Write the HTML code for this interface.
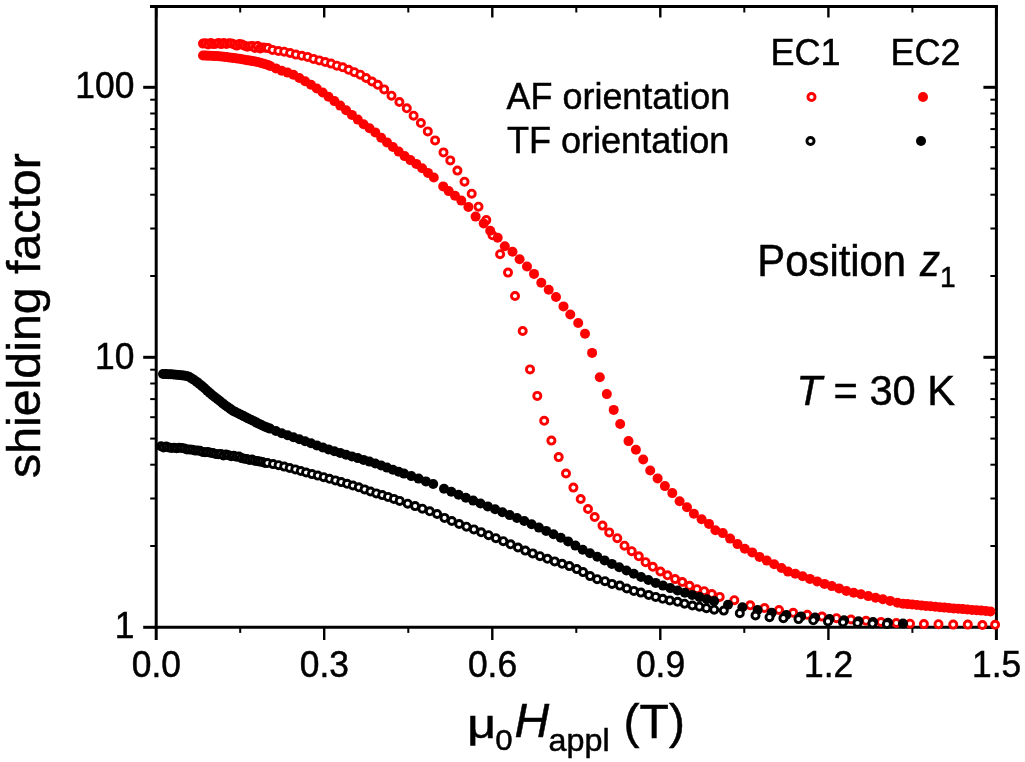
<!DOCTYPE html>
<html><head><meta charset="utf-8"><title>shielding factor</title><style>html,body{margin:0;padding:0;background:#fff;width:1025px;height:762px;overflow:hidden}svg{display:block}</style></head><body><svg width="1025" height="762" viewBox="0 0 1025 762"><g stroke="#000" stroke-width="3" fill="none" stroke-linecap="butt"><line x1="150" y1="6.5" x2="997.9" y2="6.5"/><line x1="156.2" y1="5.0" x2="156.2" y2="628.8"/><line x1="996.4" y1="5.0" x2="996.4" y2="628.8"/><line x1="154.7" y1="627.3" x2="997.9" y2="627.3"/></g><g stroke="#000" fill="none"><line x1="156.2" y1="627.3" x2="156.2" y2="640.0" stroke-width="3"/><line x1="156.2" y1="6.5" x2="156.2" y2="17.5" stroke-width="2.4"/><line x1="240.2" y1="627.3" x2="240.2" y2="632.9" stroke-width="2"/><line x1="240.2" y1="6.5" x2="240.2" y2="12.5" stroke-width="2"/><line x1="324.2" y1="627.3" x2="324.2" y2="640.0" stroke-width="2.4"/><line x1="324.2" y1="6.5" x2="324.2" y2="17.5" stroke-width="2.4"/><line x1="408.3" y1="627.3" x2="408.3" y2="632.9" stroke-width="2"/><line x1="408.3" y1="6.5" x2="408.3" y2="12.5" stroke-width="2"/><line x1="492.3" y1="627.3" x2="492.3" y2="640.0" stroke-width="2.4"/><line x1="492.3" y1="6.5" x2="492.3" y2="17.5" stroke-width="2.4"/><line x1="576.3" y1="627.3" x2="576.3" y2="632.9" stroke-width="2"/><line x1="576.3" y1="6.5" x2="576.3" y2="12.5" stroke-width="2"/><line x1="660.3" y1="627.3" x2="660.3" y2="640.0" stroke-width="2.4"/><line x1="660.3" y1="6.5" x2="660.3" y2="17.5" stroke-width="2.4"/><line x1="744.3" y1="627.3" x2="744.3" y2="632.9" stroke-width="2"/><line x1="744.3" y1="6.5" x2="744.3" y2="12.5" stroke-width="2"/><line x1="828.4" y1="627.3" x2="828.4" y2="640.0" stroke-width="2.4"/><line x1="828.4" y1="6.5" x2="828.4" y2="17.5" stroke-width="2.4"/><line x1="912.4" y1="627.3" x2="912.4" y2="632.9" stroke-width="2"/><line x1="912.4" y1="6.5" x2="912.4" y2="12.5" stroke-width="2"/><line x1="996.4" y1="627.3" x2="996.4" y2="640.0" stroke-width="3"/><line x1="996.4" y1="6.5" x2="996.4" y2="17.5" stroke-width="2.4"/><line x1="156.2" y1="627.3" x2="143.2" y2="627.3" stroke-width="3"/><line x1="996.4" y1="627.3" x2="983.4" y2="627.3" stroke-width="3"/><line x1="156.2" y1="546.0" x2="150.2" y2="546.0" stroke-width="2"/><line x1="996.4" y1="546.0" x2="990.4" y2="546.0" stroke-width="2"/><line x1="156.2" y1="498.5" x2="150.2" y2="498.5" stroke-width="2"/><line x1="996.4" y1="498.5" x2="990.4" y2="498.5" stroke-width="2"/><line x1="156.2" y1="464.7" x2="150.2" y2="464.7" stroke-width="2"/><line x1="996.4" y1="464.7" x2="990.4" y2="464.7" stroke-width="2"/><line x1="156.2" y1="438.6" x2="150.2" y2="438.6" stroke-width="2"/><line x1="996.4" y1="438.6" x2="990.4" y2="438.6" stroke-width="2"/><line x1="156.2" y1="417.2" x2="150.2" y2="417.2" stroke-width="2"/><line x1="996.4" y1="417.2" x2="990.4" y2="417.2" stroke-width="2"/><line x1="156.2" y1="399.1" x2="150.2" y2="399.1" stroke-width="2"/><line x1="996.4" y1="399.1" x2="990.4" y2="399.1" stroke-width="2"/><line x1="156.2" y1="383.5" x2="150.2" y2="383.5" stroke-width="2"/><line x1="996.4" y1="383.5" x2="990.4" y2="383.5" stroke-width="2"/><line x1="156.2" y1="369.7" x2="150.2" y2="369.7" stroke-width="2"/><line x1="996.4" y1="369.7" x2="990.4" y2="369.7" stroke-width="2"/><line x1="156.2" y1="357.3" x2="143.2" y2="357.3" stroke-width="3"/><line x1="996.4" y1="357.3" x2="983.4" y2="357.3" stroke-width="3"/><line x1="156.2" y1="276.0" x2="150.2" y2="276.0" stroke-width="2"/><line x1="996.4" y1="276.0" x2="990.4" y2="276.0" stroke-width="2"/><line x1="156.2" y1="228.5" x2="150.2" y2="228.5" stroke-width="2"/><line x1="996.4" y1="228.5" x2="990.4" y2="228.5" stroke-width="2"/><line x1="156.2" y1="194.7" x2="150.2" y2="194.7" stroke-width="2"/><line x1="996.4" y1="194.7" x2="990.4" y2="194.7" stroke-width="2"/><line x1="156.2" y1="168.6" x2="150.2" y2="168.6" stroke-width="2"/><line x1="996.4" y1="168.6" x2="990.4" y2="168.6" stroke-width="2"/><line x1="156.2" y1="147.2" x2="150.2" y2="147.2" stroke-width="2"/><line x1="996.4" y1="147.2" x2="990.4" y2="147.2" stroke-width="2"/><line x1="156.2" y1="129.1" x2="150.2" y2="129.1" stroke-width="2"/><line x1="996.4" y1="129.1" x2="990.4" y2="129.1" stroke-width="2"/><line x1="156.2" y1="113.5" x2="150.2" y2="113.5" stroke-width="2"/><line x1="996.4" y1="113.5" x2="990.4" y2="113.5" stroke-width="2"/><line x1="156.2" y1="99.7" x2="150.2" y2="99.7" stroke-width="2"/><line x1="996.4" y1="99.7" x2="990.4" y2="99.7" stroke-width="2"/><line x1="156.2" y1="87.3" x2="143.2" y2="87.3" stroke-width="3"/><line x1="996.4" y1="87.3" x2="983.4" y2="87.3" stroke-width="3"/></g><g fill="#fff" stroke="#f00" stroke-width="2.9"><circle cx="203.0" cy="43.6" r="3.55"/><circle cx="205.6" cy="43.2" r="3.55"/><circle cx="208.2" cy="44.4" r="3.55"/><circle cx="210.8" cy="43.0" r="3.55"/><circle cx="213.4" cy="44.1" r="3.55"/><circle cx="216.0" cy="43.7" r="3.55"/><circle cx="218.6" cy="43.0" r="3.55"/><circle cx="221.2" cy="44.1" r="3.55"/><circle cx="223.8" cy="43.0" r="3.55"/><circle cx="226.4" cy="44.0" r="3.55"/><circle cx="229.0" cy="43.2" r="3.55"/><circle cx="231.6" cy="43.4" r="3.55"/><circle cx="234.2" cy="44.4" r="3.55"/><circle cx="236.8" cy="45.6" r="3.55"/><circle cx="239.4" cy="44.1" r="3.55"/><circle cx="242.0" cy="44.6" r="3.55"/><circle cx="244.6" cy="45.7" r="3.55"/><circle cx="247.2" cy="46.7" r="3.55"/><circle cx="249.8" cy="46.2" r="3.55"/><circle cx="252.4" cy="46.1" r="3.55"/><circle cx="255.0" cy="47.9" r="3.55"/><circle cx="257.6" cy="46.1" r="3.55"/><circle cx="260.2" cy="48.4" r="3.55"/><circle cx="262.8" cy="47.5" r="3.55"/><circle cx="265.4" cy="47.7" r="3.55"/><circle cx="268.0" cy="48.1" r="3.55"/><circle cx="272.5" cy="49.9" r="3.55"/><circle cx="278.4" cy="51.0" r="3.55"/><circle cx="284.2" cy="51.7" r="3.55"/><circle cx="290.1" cy="53.0" r="3.55"/><circle cx="295.9" cy="54.6" r="3.55"/><circle cx="301.8" cy="55.8" r="3.55"/><circle cx="307.6" cy="56.9" r="3.55"/><circle cx="313.5" cy="58.9" r="3.55"/><circle cx="319.3" cy="60.4" r="3.55"/><circle cx="325.2" cy="62.0" r="3.55"/><circle cx="331.0" cy="63.6" r="3.55"/><circle cx="336.9" cy="65.7" r="3.55"/><circle cx="342.7" cy="67.3" r="3.55"/><circle cx="348.6" cy="69.8" r="3.55"/><circle cx="354.4" cy="72.2" r="3.55"/><circle cx="360.3" cy="74.7" r="3.55"/><circle cx="366.1" cy="78.0" r="3.55"/><circle cx="372.0" cy="81.5" r="3.55"/><circle cx="377.8" cy="84.8" r="3.55"/><circle cx="384.2" cy="89.4" r="3.55"/><circle cx="391.5" cy="95.7" r="3.55"/><circle cx="399.4" cy="102.0" r="3.55"/><circle cx="406.8" cy="108.3" r="3.55"/><circle cx="413.6" cy="115.7" r="3.55"/><circle cx="420.9" cy="123.0" r="3.55"/><circle cx="427.8" cy="131.4" r="3.55"/><circle cx="435.1" cy="140.4" r="3.55"/><circle cx="443.5" cy="152.4" r="3.55"/><circle cx="450.3" cy="160.4" r="3.55"/><circle cx="457.4" cy="170.6" r="3.55"/><circle cx="464.5" cy="181.7" r="3.55"/><circle cx="471.7" cy="193.7" r="3.55"/><circle cx="478.5" cy="206.7" r="3.55"/><circle cx="486.3" cy="220.1" r="3.55"/><circle cx="492.5" cy="235.3" r="3.55"/><circle cx="500.1" cy="254.2" r="3.55"/><circle cx="508.0" cy="272.6" r="3.55"/><circle cx="515.0" cy="296.0" r="3.55"/><circle cx="522.7" cy="331.0" r="3.55"/><circle cx="530.0" cy="369.4" r="3.55"/><circle cx="537.3" cy="395.9" r="3.55"/><circle cx="544.2" cy="420.8" r="3.55"/><circle cx="551.4" cy="440.6" r="3.55"/><circle cx="558.7" cy="457.1" r="3.55"/><circle cx="566.0" cy="473.5" r="3.55"/><circle cx="573.4" cy="487.6" r="3.55"/><circle cx="580.7" cy="499.0" r="3.55"/><circle cx="588.0" cy="509.0" r="3.55"/><circle cx="594.7" cy="517.0" r="3.55"/><circle cx="602.5" cy="525.6" r="3.55"/><circle cx="609.2" cy="532.4" r="3.55"/><circle cx="617.3" cy="538.2" r="3.55"/><circle cx="624.5" cy="545.7" r="3.55"/><circle cx="631.7" cy="551.2" r="3.55"/><circle cx="638.8" cy="556.3" r="3.55"/><circle cx="645.6" cy="562.2" r="3.55"/><circle cx="652.8" cy="566.8" r="3.55"/><circle cx="660.4" cy="571.5" r="3.55"/><circle cx="667.5" cy="575.3" r="3.55"/><circle cx="675.1" cy="579.1" r="3.55"/><circle cx="682.3" cy="582.0" r="3.55"/><circle cx="689.5" cy="585.8" r="3.55"/><circle cx="697.0" cy="589.2" r="3.55"/><circle cx="704.2" cy="591.2" r="3.55"/><circle cx="711.8" cy="594.0" r="3.55"/><circle cx="719.7" cy="596.9" r="3.55"/><circle cx="734.3" cy="600.2" r="3.55"/><circle cx="750.2" cy="605.3" r="3.55"/><circle cx="764.5" cy="608.0" r="3.55"/><circle cx="779.0" cy="610.0" r="3.55"/><circle cx="793.2" cy="612.8" r="3.55"/><circle cx="807.3" cy="614.8" r="3.55"/><circle cx="822.0" cy="616.6" r="3.55"/><circle cx="836.5" cy="618.2" r="3.55"/><circle cx="851.0" cy="619.5" r="3.55"/><circle cx="866.0" cy="620.8" r="3.55"/><circle cx="881.0" cy="622.0" r="3.55"/><circle cx="896.3" cy="623.0" r="3.55"/><circle cx="910.0" cy="623.7" r="3.55"/><circle cx="923.9" cy="624.1" r="3.55"/><circle cx="938.5" cy="624.2" r="3.55"/><circle cx="953.2" cy="624.6" r="3.55"/><circle cx="967.8" cy="624.6" r="3.55"/><circle cx="982.4" cy="625.0" r="3.55"/><circle cx="995.1" cy="624.8" r="3.55"/></g><g fill="#f00" stroke="none"><circle cx="203.0" cy="55.5" r="5.0"/><circle cx="205.6" cy="55.6" r="5.0"/><circle cx="208.2" cy="55.7" r="5.0"/><circle cx="210.8" cy="55.8" r="5.0"/><circle cx="213.4" cy="55.9" r="5.0"/><circle cx="216.0" cy="56.1" r="5.0"/><circle cx="218.6" cy="56.2" r="5.0"/><circle cx="221.2" cy="56.4" r="5.0"/><circle cx="223.8" cy="56.8" r="5.0"/><circle cx="226.4" cy="57.1" r="5.0"/><circle cx="229.0" cy="57.4" r="5.0"/><circle cx="231.6" cy="57.8" r="5.0"/><circle cx="234.2" cy="58.1" r="5.0"/><circle cx="236.8" cy="58.4" r="5.0"/><circle cx="239.4" cy="58.8" r="5.0"/><circle cx="242.0" cy="59.3" r="5.0"/><circle cx="244.6" cy="59.7" r="5.0"/><circle cx="247.2" cy="60.2" r="5.0"/><circle cx="249.8" cy="60.6" r="5.0"/><circle cx="252.4" cy="61.1" r="5.0"/><circle cx="255.0" cy="61.5" r="5.0"/><circle cx="257.6" cy="62.0" r="5.0"/><circle cx="260.2" cy="62.7" r="5.0"/><circle cx="262.8" cy="63.4" r="5.0"/><circle cx="265.4" cy="64.2" r="5.0"/><circle cx="268.0" cy="65.0" r="5.0"/><circle cx="270.0" cy="65.9" r="5.0"/><circle cx="275.9" cy="68.4" r="5.0"/><circle cx="281.7" cy="70.7" r="5.0"/><circle cx="287.6" cy="72.6" r="5.0"/><circle cx="293.4" cy="74.8" r="5.0"/><circle cx="299.3" cy="78.0" r="5.0"/><circle cx="305.1" cy="81.3" r="5.0"/><circle cx="311.0" cy="84.8" r="5.0"/><circle cx="316.8" cy="88.5" r="5.0"/><circle cx="322.7" cy="92.5" r="5.0"/><circle cx="328.5" cy="96.7" r="5.0"/><circle cx="334.4" cy="101.1" r="5.0"/><circle cx="340.2" cy="105.6" r="5.0"/><circle cx="346.1" cy="110.2" r="5.0"/><circle cx="351.9" cy="114.9" r="5.0"/><circle cx="357.8" cy="119.6" r="5.0"/><circle cx="363.6" cy="124.2" r="5.0"/><circle cx="369.5" cy="128.2" r="5.0"/><circle cx="375.3" cy="132.4" r="5.0"/><circle cx="381.2" cy="137.7" r="5.0"/><circle cx="387.0" cy="142.4" r="5.0"/><circle cx="392.9" cy="147.0" r="5.0"/><circle cx="398.7" cy="151.6" r="5.0"/><circle cx="404.6" cy="156.1" r="5.0"/><circle cx="410.4" cy="160.1" r="5.0"/><circle cx="416.3" cy="163.9" r="5.0"/><circle cx="422.1" cy="168.3" r="5.0"/><circle cx="428.0" cy="172.9" r="5.0"/><circle cx="433.8" cy="177.5" r="5.0"/><circle cx="443.2" cy="186.4" r="5.0"/><circle cx="448.7" cy="191.1" r="5.0"/><circle cx="455.0" cy="195.8" r="5.0"/><circle cx="461.3" cy="200.6" r="5.0"/><circle cx="468.4" cy="206.9" r="5.0"/><circle cx="475.6" cy="216.6" r="5.0"/><circle cx="483.7" cy="223.4" r="5.0"/><circle cx="490.2" cy="230.8" r="5.0"/><circle cx="497.7" cy="237.7" r="5.0"/><circle cx="504.8" cy="246.2" r="5.0"/><circle cx="512.5" cy="251.8" r="5.0"/><circle cx="519.6" cy="259.3" r="5.0"/><circle cx="527.0" cy="266.5" r="5.0"/><circle cx="534.0" cy="273.9" r="5.0"/><circle cx="541.3" cy="282.7" r="5.0"/><circle cx="548.7" cy="289.7" r="5.0"/><circle cx="556.0" cy="297.0" r="5.0"/><circle cx="563.5" cy="306.4" r="5.0"/><circle cx="570.3" cy="314.5" r="5.0"/><circle cx="578.2" cy="323.0" r="5.0"/><circle cx="585.0" cy="333.7" r="5.0"/><circle cx="592.1" cy="352.9" r="5.0"/><circle cx="599.8" cy="377.2" r="5.0"/><circle cx="606.8" cy="394.1" r="5.0"/><circle cx="613.7" cy="409.9" r="5.0"/><circle cx="620.2" cy="424.0" r="5.0"/><circle cx="628.5" cy="441.1" r="5.0"/><circle cx="635.9" cy="449.8" r="5.0"/><circle cx="643.2" cy="459.5" r="5.0"/><circle cx="650.2" cy="470.5" r="5.0"/><circle cx="657.6" cy="478.4" r="5.0"/><circle cx="664.9" cy="486.1" r="5.0"/><circle cx="672.3" cy="493.1" r="5.0"/><circle cx="679.6" cy="501.3" r="5.0"/><circle cx="687.0" cy="507.3" r="5.0"/><circle cx="693.9" cy="513.7" r="5.0"/><circle cx="701.6" cy="519.3" r="5.0"/><circle cx="709.0" cy="523.9" r="5.0"/><circle cx="715.4" cy="530.3" r="5.0"/><circle cx="722.8" cy="533.1" r="5.0"/><circle cx="730.1" cy="538.6" r="5.0"/><circle cx="737.5" cy="544.1" r="5.0"/><circle cx="744.8" cy="548.7" r="5.0"/><circle cx="752.2" cy="552.4" r="5.0"/><circle cx="759.5" cy="556.9" r="5.0"/><circle cx="766.8" cy="560.6" r="5.0"/><circle cx="774.2" cy="564.3" r="5.0"/><circle cx="781.5" cy="568.0" r="5.0"/><circle cx="788.0" cy="571.6" r="5.0"/><circle cx="795.3" cy="573.8" r="5.0"/><circle cx="802.6" cy="576.3" r="5.0"/><circle cx="809.9" cy="578.9" r="5.0"/><circle cx="817.2" cy="581.4" r="5.0"/><circle cx="824.5" cy="583.9" r="5.0"/><circle cx="831.8" cy="586.1" r="5.0"/><circle cx="839.1" cy="588.4" r="5.0"/><circle cx="846.4" cy="591.0" r="5.0"/><circle cx="853.7" cy="592.8" r="5.0"/><circle cx="861.0" cy="594.3" r="5.0"/><circle cx="868.3" cy="596.1" r="5.0"/><circle cx="875.6" cy="597.8" r="5.0"/><circle cx="882.9" cy="599.3" r="5.0"/><circle cx="890.2" cy="600.9" r="5.0"/><circle cx="897.5" cy="602.8" r="5.0"/><circle cx="903.0" cy="603.7" r="5.0"/><circle cx="907.6" cy="604.1" r="5.0"/><circle cx="912.2" cy="604.5" r="5.0"/><circle cx="916.8" cy="605.0" r="5.0"/><circle cx="921.4" cy="605.4" r="5.0"/><circle cx="926.0" cy="605.9" r="5.0"/><circle cx="930.6" cy="606.3" r="5.0"/><circle cx="935.2" cy="606.7" r="5.0"/><circle cx="939.8" cy="607.2" r="5.0"/><circle cx="944.4" cy="607.6" r="5.0"/><circle cx="949.0" cy="608.0" r="5.0"/><circle cx="953.6" cy="608.4" r="5.0"/><circle cx="958.2" cy="608.8" r="5.0"/><circle cx="962.8" cy="609.1" r="5.0"/><circle cx="967.4" cy="609.5" r="5.0"/><circle cx="972.0" cy="609.9" r="5.0"/><circle cx="976.6" cy="610.3" r="5.0"/><circle cx="981.2" cy="610.6" r="5.0"/><circle cx="985.8" cy="611.0" r="5.0"/><circle cx="990.4" cy="611.4" r="5.0"/></g><g fill="#000" stroke="none"><circle cx="163.0" cy="374.0" r="5.0"/><circle cx="165.6" cy="374.1" r="5.0"/><circle cx="168.2" cy="374.2" r="5.0"/><circle cx="170.8" cy="374.3" r="5.0"/><circle cx="173.4" cy="374.5" r="5.0"/><circle cx="176.0" cy="374.8" r="5.0"/><circle cx="178.6" cy="375.0" r="5.0"/><circle cx="181.2" cy="375.3" r="5.0"/><circle cx="183.8" cy="375.6" r="5.0"/><circle cx="186.4" cy="375.9" r="5.0"/><circle cx="189.0" cy="376.8" r="5.0"/><circle cx="191.6" cy="378.4" r="5.0"/><circle cx="194.2" cy="380.0" r="5.0"/><circle cx="196.8" cy="381.9" r="5.0"/><circle cx="199.4" cy="384.0" r="5.0"/><circle cx="202.0" cy="386.1" r="5.0"/><circle cx="204.6" cy="388.3" r="5.0"/><circle cx="207.2" cy="390.7" r="5.0"/><circle cx="209.8" cy="393.0" r="5.0"/><circle cx="212.4" cy="395.2" r="5.0"/><circle cx="215.0" cy="397.2" r="5.0"/><circle cx="217.6" cy="399.3" r="5.0"/><circle cx="220.2" cy="401.3" r="5.0"/><circle cx="222.8" cy="403.4" r="5.0"/><circle cx="225.4" cy="405.5" r="5.0"/><circle cx="228.0" cy="407.3" r="5.0"/><circle cx="230.6" cy="409.1" r="5.0"/><circle cx="233.2" cy="410.9" r="5.0"/><circle cx="235.8" cy="412.2" r="5.0"/><circle cx="238.4" cy="413.5" r="5.0"/><circle cx="241.0" cy="414.8" r="5.0"/><circle cx="243.6" cy="416.1" r="5.0"/><circle cx="246.2" cy="417.4" r="5.0"/><circle cx="248.8" cy="418.7" r="5.0"/><circle cx="251.4" cy="420.0" r="5.0"/><circle cx="254.0" cy="421.3" r="5.0"/><circle cx="256.6" cy="422.6" r="5.0"/><circle cx="259.2" cy="423.9" r="5.0"/><circle cx="261.8" cy="425.2" r="5.0"/><circle cx="264.4" cy="426.4" r="5.0"/><circle cx="267.0" cy="427.4" r="5.0"/><circle cx="270.0" cy="428.6" r="5.0"/><circle cx="275.9" cy="431.0" r="5.0"/><circle cx="281.7" cy="433.2" r="5.0"/><circle cx="287.6" cy="435.2" r="5.0"/><circle cx="293.4" cy="437.2" r="5.0"/><circle cx="299.3" cy="439.3" r="5.0"/><circle cx="305.1" cy="441.3" r="5.0"/><circle cx="311.0" cy="443.3" r="5.0"/><circle cx="316.8" cy="445.4" r="5.0"/><circle cx="322.7" cy="447.4" r="5.0"/><circle cx="328.5" cy="449.4" r="5.0"/><circle cx="334.4" cy="451.2" r="5.0"/><circle cx="340.2" cy="452.9" r="5.0"/><circle cx="346.1" cy="454.7" r="5.0"/><circle cx="351.9" cy="456.4" r="5.0"/><circle cx="357.8" cy="458.1" r="5.0"/><circle cx="363.6" cy="459.9" r="5.0"/><circle cx="369.5" cy="461.6" r="5.0"/><circle cx="375.3" cy="463.5" r="5.0"/><circle cx="381.2" cy="465.5" r="5.0"/><circle cx="387.0" cy="467.6" r="5.0"/><circle cx="392.9" cy="469.7" r="5.0"/><circle cx="398.7" cy="471.7" r="5.0"/><circle cx="404.0" cy="473.6" r="5.0"/><circle cx="411.3" cy="476.1" r="5.0"/><circle cx="418.6" cy="478.6" r="5.0"/><circle cx="425.9" cy="481.4" r="5.0"/><circle cx="433.2" cy="484.0" r="5.0"/><circle cx="444.0" cy="488.7" r="5.0"/><circle cx="451.3" cy="491.7" r="5.0"/><circle cx="458.6" cy="494.7" r="5.0"/><circle cx="465.9" cy="497.7" r="5.0"/><circle cx="473.2" cy="500.6" r="5.0"/><circle cx="480.5" cy="503.5" r="5.0"/><circle cx="487.8" cy="506.4" r="5.0"/><circle cx="495.1" cy="509.3" r="5.0"/><circle cx="502.4" cy="512.2" r="5.0"/><circle cx="509.7" cy="515.1" r="5.0"/><circle cx="517.0" cy="518.0" r="5.0"/><circle cx="524.3" cy="521.0" r="5.0"/><circle cx="531.6" cy="524.3" r="5.0"/><circle cx="538.9" cy="527.6" r="5.0"/><circle cx="546.2" cy="530.9" r="5.0"/><circle cx="553.5" cy="534.2" r="5.0"/><circle cx="560.8" cy="537.7" r="5.0"/><circle cx="568.1" cy="541.4" r="5.0"/><circle cx="575.4" cy="545.6" r="5.0"/><circle cx="582.7" cy="549.8" r="5.0"/><circle cx="590.0" cy="553.3" r="5.0"/><circle cx="597.3" cy="556.8" r="5.0"/><circle cx="604.6" cy="560.4" r="5.0"/><circle cx="611.9" cy="563.9" r="5.0"/><circle cx="619.2" cy="567.2" r="5.0"/><circle cx="626.5" cy="570.5" r="5.0"/><circle cx="633.8" cy="573.7" r="5.0"/><circle cx="641.1" cy="577.0" r="5.0"/><circle cx="648.4" cy="580.0" r="5.0"/><circle cx="655.7" cy="582.9" r="5.0"/><circle cx="663.0" cy="585.6" r="5.0"/><circle cx="670.3" cy="588.1" r="5.0"/><circle cx="677.6" cy="590.5" r="5.0"/><circle cx="684.9" cy="592.7" r="5.0"/><circle cx="692.2" cy="594.9" r="5.0"/><circle cx="699.5" cy="597.1" r="5.0"/><circle cx="706.8" cy="599.2" r="5.0"/><circle cx="714.1" cy="601.1" r="5.0"/><circle cx="728.0" cy="604.8" r="5.0"/><circle cx="742.4" cy="607.2" r="5.0"/><circle cx="757.6" cy="610.0" r="5.0"/><circle cx="771.7" cy="612.8" r="5.0"/><circle cx="786.3" cy="615.0" r="5.0"/><circle cx="801.0" cy="616.4" r="5.0"/><circle cx="815.1" cy="617.6" r="5.0"/><circle cx="829.5" cy="619.0" r="5.0"/><circle cx="844.0" cy="620.2" r="5.0"/><circle cx="858.5" cy="621.2" r="5.0"/><circle cx="873.0" cy="622.0" r="5.0"/><circle cx="888.0" cy="622.8" r="5.0"/><circle cx="903.0" cy="623.5" r="5.0"/></g><g fill="#fff" stroke="#000" stroke-width="2.9"><circle cx="161.0" cy="446.3" r="3.55"/><circle cx="163.6" cy="447.4" r="3.55"/><circle cx="166.2" cy="446.6" r="3.55"/><circle cx="168.8" cy="447.5" r="3.55"/><circle cx="171.4" cy="447.9" r="3.55"/><circle cx="174.0" cy="447.7" r="3.55"/><circle cx="176.6" cy="448.3" r="3.55"/><circle cx="179.2" cy="447.8" r="3.55"/><circle cx="181.8" cy="448.0" r="3.55"/><circle cx="184.4" cy="448.5" r="3.55"/><circle cx="187.0" cy="449.5" r="3.55"/><circle cx="189.6" cy="449.5" r="3.55"/><circle cx="192.2" cy="449.7" r="3.55"/><circle cx="194.8" cy="450.5" r="3.55"/><circle cx="197.4" cy="450.6" r="3.55"/><circle cx="200.0" cy="450.8" r="3.55"/><circle cx="202.6" cy="451.9" r="3.55"/><circle cx="205.2" cy="452.2" r="3.55"/><circle cx="207.8" cy="451.9" r="3.55"/><circle cx="210.4" cy="452.8" r="3.55"/><circle cx="213.0" cy="453.1" r="3.55"/><circle cx="215.6" cy="454.0" r="3.55"/><circle cx="218.2" cy="454.2" r="3.55"/><circle cx="220.8" cy="453.9" r="3.55"/><circle cx="223.4" cy="455.4" r="3.55"/><circle cx="226.0" cy="454.4" r="3.55"/><circle cx="228.6" cy="455.3" r="3.55"/><circle cx="231.2" cy="456.2" r="3.55"/><circle cx="233.8" cy="455.7" r="3.55"/><circle cx="236.4" cy="456.8" r="3.55"/><circle cx="239.0" cy="456.6" r="3.55"/><circle cx="241.6" cy="458.1" r="3.55"/><circle cx="244.2" cy="458.8" r="3.55"/><circle cx="246.8" cy="459.0" r="3.55"/><circle cx="249.4" cy="460.0" r="3.55"/><circle cx="252.0" cy="459.6" r="3.55"/><circle cx="254.6" cy="460.7" r="3.55"/><circle cx="257.2" cy="461.1" r="3.55"/><circle cx="259.8" cy="461.6" r="3.55"/><circle cx="262.4" cy="461.9" r="3.55"/><circle cx="265.0" cy="463.0" r="3.55"/><circle cx="267.5" cy="463.0" r="3.55"/><circle cx="273.1" cy="464.1" r="3.55"/><circle cx="278.6" cy="465.2" r="3.55"/><circle cx="284.2" cy="466.6" r="3.55"/><circle cx="289.7" cy="468.0" r="3.55"/><circle cx="295.3" cy="469.4" r="3.55"/><circle cx="300.8" cy="471.0" r="3.55"/><circle cx="306.1" cy="472.5" r="3.55"/><circle cx="312.0" cy="474.1" r="3.55"/><circle cx="317.8" cy="475.6" r="3.55"/><circle cx="323.7" cy="477.2" r="3.55"/><circle cx="329.5" cy="478.8" r="3.55"/><circle cx="335.4" cy="480.4" r="3.55"/><circle cx="341.2" cy="482.1" r="3.55"/><circle cx="347.1" cy="483.8" r="3.55"/><circle cx="352.9" cy="485.5" r="3.55"/><circle cx="358.8" cy="487.3" r="3.55"/><circle cx="364.6" cy="489.4" r="3.55"/><circle cx="370.5" cy="491.5" r="3.55"/><circle cx="376.3" cy="493.4" r="3.55"/><circle cx="382.2" cy="495.1" r="3.55"/><circle cx="388.0" cy="496.9" r="3.55"/><circle cx="393.9" cy="498.9" r="3.55"/><circle cx="399.7" cy="500.9" r="3.55"/><circle cx="407.7" cy="503.7" r="3.55"/><circle cx="415.1" cy="506.1" r="3.55"/><circle cx="422.4" cy="508.7" r="3.55"/><circle cx="429.8" cy="511.3" r="3.55"/><circle cx="437.1" cy="514.0" r="3.55"/><circle cx="444.5" cy="517.9" r="3.55"/><circle cx="451.8" cy="521.0" r="3.55"/><circle cx="459.2" cy="524.0" r="3.55"/><circle cx="466.5" cy="526.7" r="3.55"/><circle cx="473.9" cy="529.4" r="3.55"/><circle cx="481.2" cy="532.3" r="3.55"/><circle cx="488.6" cy="535.2" r="3.55"/><circle cx="495.9" cy="538.2" r="3.55"/><circle cx="503.3" cy="541.2" r="3.55"/><circle cx="510.6" cy="544.3" r="3.55"/><circle cx="518.0" cy="547.5" r="3.55"/><circle cx="525.3" cy="550.6" r="3.55"/><circle cx="532.7" cy="553.4" r="3.55"/><circle cx="540.0" cy="556.2" r="3.55"/><circle cx="547.4" cy="558.8" r="3.55"/><circle cx="554.7" cy="561.4" r="3.55"/><circle cx="562.1" cy="563.8" r="3.55"/><circle cx="569.4" cy="566.1" r="3.55"/><circle cx="576.8" cy="569.1" r="3.55"/><circle cx="583.1" cy="572.1" r="3.55"/><circle cx="590.1" cy="576.1" r="3.55"/><circle cx="597.2" cy="579.2" r="3.55"/><circle cx="605.0" cy="581.2" r="3.55"/><circle cx="612.0" cy="583.9" r="3.55"/><circle cx="619.8" cy="585.6" r="3.55"/><circle cx="626.8" cy="588.5" r="3.55"/><circle cx="633.9" cy="590.9" r="3.55"/><circle cx="640.9" cy="592.6" r="3.55"/><circle cx="648.7" cy="594.9" r="3.55"/><circle cx="655.7" cy="596.9" r="3.55"/><circle cx="662.7" cy="598.8" r="3.55"/><circle cx="669.8" cy="600.4" r="3.55"/><circle cx="677.6" cy="601.8" r="3.55"/><circle cx="684.6" cy="603.7" r="3.55"/><circle cx="692.4" cy="605.5" r="3.55"/><circle cx="699.4" cy="606.7" r="3.55"/><circle cx="706.4" cy="608.2" r="3.55"/><circle cx="714.2" cy="609.7" r="3.55"/><circle cx="723.8" cy="610.6" r="3.55"/><circle cx="739.8" cy="613.2" r="3.55"/><circle cx="755.5" cy="615.5" r="3.55"/><circle cx="769.5" cy="617.2" r="3.55"/><circle cx="783.4" cy="618.2" r="3.55"/><circle cx="798.5" cy="619.1" r="3.55"/><circle cx="813.3" cy="620.3" r="3.55"/><circle cx="828.0" cy="621.4" r="3.55"/><circle cx="843.0" cy="622.3" r="3.55"/><circle cx="857.5" cy="623.0" r="3.55"/><circle cx="872.4" cy="623.6" r="3.55"/><circle cx="886.9" cy="624.1" r="3.55"/></g><g font-family="'Liberation Sans', sans-serif" fill="#000" stroke="#000" stroke-width="0.5"><text transform="translate(134.4,638.3) scale(0.97,1)" font-size="36.5" text-anchor="end">1</text><text transform="translate(134.4,368.5) scale(0.97,1)" font-size="36.5" text-anchor="end">10</text><text transform="translate(134.4,98.3) scale(0.97,1)" font-size="36.5" text-anchor="end">100</text><text transform="translate(156.4,676.5) scale(0.97,1)" font-size="36.5" text-anchor="middle">0.0</text><text transform="translate(324.4,676.5) scale(0.97,1)" font-size="36.5" text-anchor="middle">0.3</text><text transform="translate(492.5,676.5) scale(0.97,1)" font-size="36.5" text-anchor="middle">0.6</text><text transform="translate(660.5,676.5) scale(0.97,1)" font-size="36.5" text-anchor="middle">0.9</text><text transform="translate(828.6,676.5) scale(0.97,1)" font-size="36.5" text-anchor="middle">1.2</text><text transform="translate(996.6,676.5) scale(0.97,1)" font-size="36.5" text-anchor="middle">1.5</text><text transform="translate(40.1,478) scale(0.97,1) rotate(-90)" font-size="48.3">shielding factor</text><text transform="translate(467.2,738.0) scale(1.25,1)" font-size="40">μ</text><text transform="translate(495.3,750.3) scale(1.04,1)" font-size="30">0</text><text transform="translate(514.6,736.9) scale(0.98,1)" font-size="49" font-style="italic">H</text><text transform="translate(548.5,750.6) scale(1.01,1)" font-size="32">appl</text><text transform="translate(623.6,738.2) scale(0.98,1)" font-size="49">(T)</text><text transform="translate(770.6,64.7) scale(0.96,1)" font-size="37.5">EC1</text><text transform="translate(890.4,64.8) scale(0.96,1)" font-size="37.5">EC2</text><text transform="translate(506.6,108.7) scale(0.971,1)" font-size="37">AF orientation</text><text transform="translate(506.9,153.2) scale(0.975,1)" font-size="37">TF orientation</text><text transform="translate(757.3,275.7) scale(0.962,1)" font-size="43.5">Position</text><text transform="translate(919.9,275.7) scale(0.92,1)" font-size="43.5" font-style="italic">z</text><text transform="translate(940.1,286.5) scale(0.97,1)" font-size="29">1</text><text transform="translate(796.4,404.8) scale(0.97,1)" font-size="43"><tspan font-style="italic">T</tspan> = 30 K</text></g><circle cx="811.5" cy="97" r="3.55" fill="#fff" stroke="#f00" stroke-width="2.9"/><circle cx="923" cy="97" r="5.0" fill="#f00"/><circle cx="810.5" cy="141" r="3.55" fill="#fff" stroke="#000" stroke-width="2.9"/><circle cx="921" cy="141" r="5.0" fill="#000"/></svg></body></html>
